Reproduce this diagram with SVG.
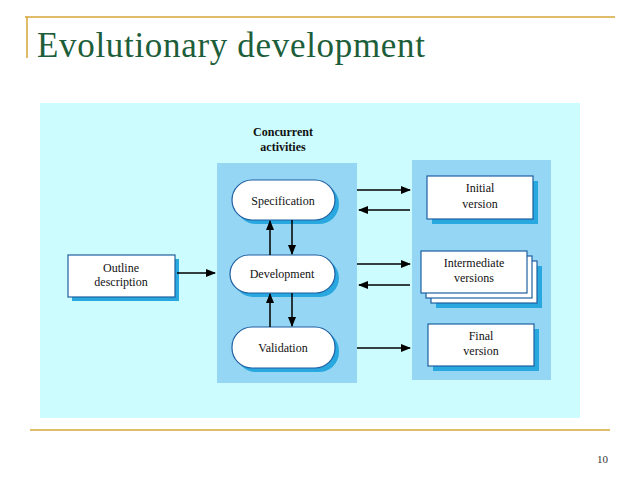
<svg xmlns="http://www.w3.org/2000/svg" width="638" height="479" viewBox="0 0 638 479">
<style>
text{font-family:'Liberation Serif','Times New Roman',serif}
.t{font-size:12px;fill:#111;text-anchor:middle}
.sh{fill:#29a8e0}
.b{fill:#fff;stroke:#1f5fa0;stroke-width:1.2}
.c{stroke:#000;stroke-width:1.5;fill:none;marker-end:url(#a)}
</style>
<defs><marker id="a" markerWidth="10" markerHeight="8" refX="9" refY="4" orient="auto" markerUnits="userSpaceOnUse"><path d="M0,0 L10,4 L0,8 Z" fill="#000"/></marker></defs>
<rect width="638" height="479" fill="#fff"/>
<path d="M25,17 H615 M27,17 V58" stroke="#d6a63a" stroke-width="1.5" fill="none"/>
<path d="M30,430 H610" stroke="#d6a63a" stroke-width="1.5"/>
<text x="37" y="57" font-size="35" fill="#1d5e3a" textLength="388">Evolutionary development</text>
<text x="597" y="463" font-size="11" fill="#333">10</text>
<rect x="40" y="103" width="540" height="315" fill="#ccfcfd"/>
<rect x="217" y="163" width="140" height="220" fill="#94d6f4"/>
<rect x="412" y="160" width="139" height="220" fill="#94d6f4"/>
<text class="t" x="283" y="136" font-weight="bold" font-size="11">Concurrent</text>
<text class="t" x="283" y="151" font-weight="bold" font-size="11">activities</text>
<g id="outline"><rect class="sh" x="72" y="259" width="107" height="42"/><rect class="b" x="68" y="255" width="107" height="42"/><text class="t" x="121" y="272">Outline</text><text class="t" x="121" y="286">description</text></g>
<g id="spec"><rect class="sh" x="236" y="184" width="103" height="40" rx="20"/><rect class="b" x="232" y="180" width="103" height="40" rx="20"/><text class="t" x="283" y="205">Specification</text></g>
<g id="dev"><rect class="sh" x="234" y="259" width="105" height="38" rx="19"/><rect class="b" x="230" y="255" width="105" height="38" rx="19"/><text class="t" x="282" y="278">Development</text></g>
<g id="val"><rect class="sh" x="236" y="331" width="103" height="41" rx="20"/><rect class="b" x="232" y="327" width="103" height="41" rx="20"/><text class="t" x="283" y="352">Validation</text></g>
<g id="initial"><rect class="sh" x="432" y="181" width="106" height="43"/><rect class="b" x="427" y="176" width="106" height="43"/><text class="t" x="480" y="192">Initial</text><text class="t" x="480" y="208">version</text></g>
<g id="inter"><rect class="sh" x="436" y="266" width="106" height="42"/><rect class="b" x="431" y="261" width="106" height="42"/><rect class="b" x="426" y="256" width="106" height="42"/><rect class="b" x="421" y="251" width="106" height="42"/><text class="t" x="474" y="267">Intermediate</text><text class="t" x="474" y="282">versions</text></g>
<g id="final"><rect class="sh" x="433" y="329" width="106" height="42"/><rect class="b" x="428" y="324" width="106" height="42"/><text class="t" x="481" y="340">Final</text><text class="t" x="481" y="355">version</text></g>
<g id="connectors">
<path class="c" d="M177,273 H215"/>
<path class="c" d="M357,190 H410"/>
<path class="c" d="M410,210 H359"/>
<path class="c" d="M357,264 H410"/>
<path class="c" d="M410,285 H359"/>
<path class="c" d="M357,348 H410"/>
<path class="c" d="M270,255 V221"/>
<path class="c" d="M292,220 V254"/>
<path class="c" d="M270,327 V294"/>
<path class="c" d="M292,293 V326"/>
</g>
</svg>
